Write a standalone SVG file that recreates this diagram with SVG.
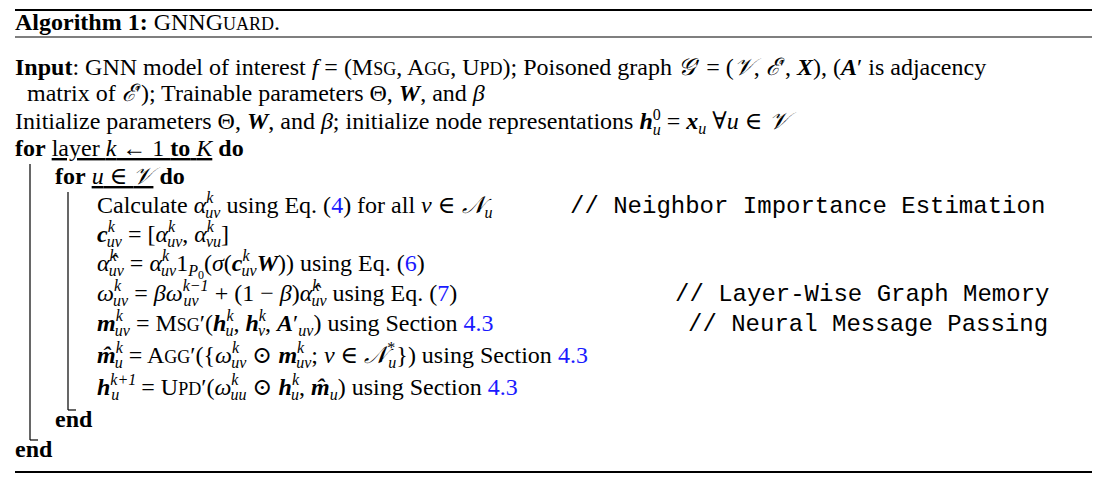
<svg xmlns="http://www.w3.org/2000/svg" width="1114" height="490" viewBox="0 0 1114 490">
<style>
text{font-family:"Liberation Serif","DejaVu Serif",serif;font-size:24px;fill:#000}
.i{font-style:italic}.b{font-weight:bold}.bi{font-weight:bold;font-style:italic}
.sc{font-size:18px}.s{font-size:16px}
.m{font-family:"Liberation Mono","DejaVu Sans Mono",monospace;font-size:24px}
.l{fill:#1a1aff}
</style>
<rect width="1114" height="490" fill="#fff"/>
<line x1="15" y1="10" x2="1092" y2="10" stroke="#000" stroke-width="2"/>
<line x1="15" y1="37" x2="1092" y2="37" stroke="#000" stroke-width="1.2"/>
<line x1="15" y1="472" x2="1092" y2="472" stroke="#000" stroke-width="2"/>
<line x1="30" y1="164" x2="30" y2="440" stroke="#000" stroke-width="1.2"/>
<line x1="30" y1="440" x2="38" y2="440" stroke="#000" stroke-width="1.2"/>
<line x1="68" y1="192" x2="68" y2="410" stroke="#000" stroke-width="1.2"/>
<line x1="68" y1="410" x2="76" y2="410" stroke="#000" stroke-width="1.2"/>
<text x="15" y="30"><tspan class="b">Algorithm 1:</tspan> GNNG<tspan class="sc">UARD</tspan>.</text>
<text x="15" y="75"><tspan class="b">Input</tspan>: GNN model of interest <tspan class="i">f</tspan> = (M<tspan class="sc">SG</tspan>, A<tspan class="sc">GG</tspan>, U<tspan class="sc">PD</tspan>); Poisoned graph <tspan class="i">𝒢</tspan>′ = (<tspan class="i">𝒱</tspan>, <tspan class="i">ℰ</tspan>′, <tspan class="bi">X</tspan>), (<tspan class="bi">A</tspan>′ is adjacency</text>
<text x="27" y="101">matrix of <tspan class="i">ℰ</tspan>′); Trainable parameters Θ, <tspan class="bi">W</tspan>, and <tspan class="i">β</tspan></text>
<text x="15" y="129">Initialize parameters Θ, <tspan class="bi">W</tspan>, and <tspan class="i">β</tspan>; initialize node representations <tspan class="bi">h</tspan><tspan class="s" dy="-9">0</tspan><tspan class="s i" dx="-8" dy="15">u</tspan><tspan dy="-6"> = </tspan><tspan class="bi">x</tspan><tspan class="s i" dy="5">u</tspan><tspan dy="-5"> ∀</tspan><tspan class="i">u</tspan> ∈ <tspan class="i">𝒱</tspan></text>
<text x="15" y="156"><tspan class="b">for</tspan> <tspan text-decoration="underline">layer <tspan class="i">k</tspan> ← 1 <tspan class="b">to</tspan> <tspan class="i">K</tspan></tspan> <tspan class="b">do</tspan></text>
<text x="55" y="184"><tspan class="b">for</tspan> <tspan text-decoration="underline"><tspan class="i">u</tspan> ∈ <tspan class="i">𝒱</tspan></tspan> <tspan class="b">do</tspan></text>
<text x="97" y="213">Calculate <tspan class="i">α</tspan><tspan class="s i" dy="-10">k</tspan><tspan class="s i" dx="-8" dy="15">uv</tspan><tspan dy="-5"> using Eq. (</tspan><tspan class="l">4</tspan>) for all <tspan class="i">v</tspan> ∈ <tspan class="i">𝒩</tspan><tspan class="s i" dy="5">u</tspan></text>
<text x="570" y="213" class="m">// Neighbor Importance Estimation</text>
<text x="97" y="242"><tspan class="bi">c</tspan><tspan class="s i" dy="-10">k</tspan><tspan class="s i" dx="-8" dy="15">uv</tspan><tspan dy="-5"> = [</tspan><tspan class="i">α</tspan><tspan class="s i" dy="-10">k</tspan><tspan class="s i" dx="-8" dy="15">uv</tspan><tspan dy="-5">, </tspan><tspan class="i">α</tspan><tspan class="s i" dy="-10">k</tspan><tspan class="s i" dx="-8" dy="15">vu</tspan><tspan dy="-5">]</tspan></text>
<text x="97" y="271"><tspan class="i">α̂</tspan><tspan class="s i" dy="-10">k</tspan><tspan class="s i" dx="-8" dy="15">uv</tspan><tspan dy="-5"> = </tspan><tspan class="i">α</tspan><tspan class="s i" dy="-10">k</tspan><tspan class="s i" dx="-8" dy="15">uv</tspan><tspan dy="-5">1</tspan><tspan class="s i" dy="5">P</tspan><tspan dy="3" style="font-size:12px">0</tspan><tspan dy="-8">(</tspan><tspan class="i">σ</tspan>(<tspan class="bi">c</tspan><tspan class="s i" dy="-10">k</tspan><tspan class="s i" dx="-8" dy="15">uv</tspan><tspan class="bi" dy="-5">W</tspan>)) using Eq. (<tspan class="l">6</tspan>)</text>
<text x="97" y="301"><tspan class="i">ω</tspan><tspan class="s i" dy="-10">k</tspan><tspan class="s i" dx="-8" dy="15">uv</tspan><tspan dy="-5"> = </tspan><tspan class="i">βω</tspan><tspan class="s i" dy="-10">k−1</tspan><tspan class="s i" dx="-25" dy="15">uv</tspan><tspan dy="-5" dx="10"> + (1 − </tspan><tspan class="i">β</tspan>)<tspan class="i">α̂</tspan><tspan class="s i" dy="-10">k</tspan><tspan class="s i" dx="-8" dy="15">uv</tspan><tspan dy="-5"> using Eq. (</tspan><tspan class="l">7</tspan>)</text>
<text x="675" y="301" class="m">// Layer-Wise Graph Memory</text>
<text x="97" y="331"><tspan class="bi">m</tspan><tspan class="s i" dy="-10">k</tspan><tspan class="s i" dx="-8" dy="15">uv</tspan><tspan dy="-5"> = M</tspan><tspan class="sc">SG</tspan>′(<tspan class="bi">h</tspan><tspan class="s i" dy="-10">k</tspan><tspan class="s i" dx="-8" dy="15">u</tspan><tspan dy="-5">, </tspan><tspan class="bi">h</tspan><tspan class="s i" dy="-10">k</tspan><tspan class="s i" dx="-8" dy="15">v</tspan><tspan dy="-5">, </tspan><tspan class="bi">A</tspan>′<tspan class="s i" dy="5">uv</tspan><tspan dy="-5">) using Section </tspan><tspan class="l">4.3</tspan></text>
<text x="688" y="331" class="m">// Neural Message Passing</text>
<text x="97" y="363"><tspan class="bi">m̂</tspan><tspan class="s i" dy="-10">k</tspan><tspan class="s i" dx="-8" dy="15">u</tspan><tspan dy="-5"> = A</tspan><tspan class="sc">GG</tspan>′({<tspan class="i">ω</tspan><tspan class="s i" dy="-10">k</tspan><tspan class="s i" dx="-8" dy="15">uv</tspan><tspan dy="-5"> ⊙ </tspan><tspan class="bi">m</tspan><tspan class="s i" dy="-10">k</tspan><tspan class="s i" dx="-8" dy="15">uv</tspan><tspan dy="-5">; </tspan><tspan class="i">v</tspan> ∈ <tspan class="i">𝒩</tspan><tspan class="s" dy="-10">*</tspan><tspan class="s i" dx="-7" dy="15">u</tspan><tspan dy="-5">}) using Section </tspan><tspan class="l">4.3</tspan></text>
<text x="97" y="395"><tspan class="bi">h</tspan><tspan class="s i" dy="-10">k+1</tspan><tspan class="s i" dx="-25" dy="15">u</tspan><tspan dy="-5" dx="16"> = U</tspan><tspan class="sc">PD</tspan>′(<tspan class="i">ω</tspan><tspan class="s i" dy="-10">k</tspan><tspan class="s i" dx="-8" dy="15">uu</tspan><tspan dy="-5"> ⊙ </tspan><tspan class="bi">h</tspan><tspan class="s i" dy="-10">k</tspan><tspan class="s i" dx="-8" dy="15">u</tspan><tspan dy="-5">, </tspan><tspan class="bi">m̂</tspan><tspan class="s i" dy="5">u</tspan><tspan dy="-5">) using Section </tspan><tspan class="l">4.3</tspan></text>
<text x="55" y="427" class="b">end</text>
<text x="15" y="457" class="b">end</text>
</svg>
